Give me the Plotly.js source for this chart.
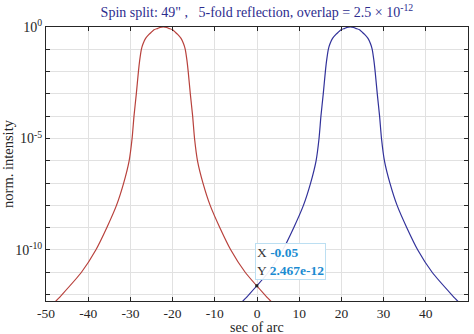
<!DOCTYPE html>
<html>
<head>
<meta charset="utf-8">
<script src="https://cdn.plot.ly/plotly-3.0.1.min.js"></script>
<style>
  html, body { margin: 0; padding: 0; background: #ffffff; }
  #chart { width: 474px; height: 334px; }
</style>
</head>
<body>
<div id="chart"></div>
<script>
// ---- data (x in sec of arc, y as log10 of normalised intensity) ----
const redX = [-48.7, -46.2, -41.6, -38.2, -35.6, -33.3, -31.6, -30.3, -29.6, -29.15, -28.6, -28.1, -27.8, -27.4, -27.0, -26.4, -25.6, -24.9, -24.4, -23.5, -23.0, -22.2,
              -21.4, -20.9, -20.0, -19.5, -18.8, -18.0, -17.4, -17.0, -16.6, -16.3, -15.8, -15.25, -14.8, -14.1, -12.8, -11.1, -8.8, -6.2, -2.8, 1.8, 4.3];
const redLogY = [-12.5, -12, -11, -10, -9, -8, -7, -6, -5, -4, -3, -2, -1.5, -1, -0.75, -0.51, -0.33, -0.21, -0.12, -0.06, -0.02, 0,
              -0.02, -0.06, -0.12, -0.21, -0.33, -0.51, -0.75, -1, -1.5, -2, -3, -4, -5, -6, -7, -8, -9, -10, -11, -12, -12.5];

const blueX = [-4.4, -1.9, 2.7, 6.1, 8.7, 11.0, 12.7, 14.0, 14.7, 15.15, 15.7, 16.2, 16.5, 16.9, 17.3, 17.9, 18.7, 19.4, 19.9, 20.8, 21.3, 22.1,
               22.9, 23.4, 24.3, 24.8, 25.5, 26.3, 26.9, 27.3, 27.7, 28.0, 28.5, 29.05, 29.5, 30.2, 31.5, 33.2, 35.5, 38.1, 41.5, 46.1, 48.6];
const blueLogY = [-12.5, -12, -11, -10, -9, -8, -7, -6, -5, -4, -3, -2, -1.5, -1, -0.75, -0.51, -0.33, -0.21, -0.12, -0.06, -0.02, 0,
               -0.02, -0.06, -0.12, -0.21, -0.33, -0.51, -0.75, -1, -1.5, -2, -3, -4, -5, -6, -7, -8, -9, -10, -11, -12, -12.5];

const tipX = -0.05;
const tipY = 2.467e-12;

const xTicks = [-50, -40, -30, -20, -10, 0, 10, 20, 30, 40, 50];
const yTickExp = [0, -1, -2, -3, -4, -5, -6, -7, -8, -9, -10, -11, -12];
const yTickText = ['10<sup>0</sup>', '', '', '', '', '10<sup>-5</sup>', '', '', '', '', '10<sup>-10</sup>', '', ''];

const titleText = 'Spin split: 49"\u00A0,\u00A0\u00A0\u00A05-fold reflection, overlap = 2.5 \u00D7 10<sup>-12</sup>';
const xTitle = 'sec of arc';
const yTitle = 'norm. intensity';

// ---- build ----
const toLin = a => a.map(e => Math.pow(10, e));
const serif = '"Liberation Serif", "DejaVu Serif", serif';
const axisCol = '#262626';
const gridCol = '#e1e1e1';

const traces = [
  { x: redX, y: toLin(redLogY), type: 'scatter', mode: 'lines',
    line: { color: '#b8413c', width: 1.2, shape: 'spline', smoothing: 0.6 }, hoverinfo: 'skip' },
  { x: blueX, y: toLin(blueLogY), type: 'scatter', mode: 'lines',
    line: { color: '#31319a', width: 1.2, shape: 'spline', smoothing: 0.6 }, hoverinfo: 'skip' },
  { x: [tipX], y: [tipY], type: 'scatter', mode: 'markers',
    marker: { color: '#222222', size: 3, symbol: 'square' }, hoverinfo: 'skip' }
];

const layout = {
  width: 474, height: 334,
  margin: { l: 46, r: 6, t: 27, b: 33 },
  paper_bgcolor: '#ffffff', plot_bgcolor: '#ffffff',
  showlegend: false,
  font: { family: serif, size: 14, color: axisCol },
  title: { text: titleText, font: { family: serif, size: 14, color: '#2d2d8e' },
           x: 0.542, xanchor: 'center', y: 0.965, yanchor: 'middle' },
  xaxis: {
    range: [-50, 50], tickvals: xTicks, ticktext: xTicks.map(String),
    ticks: 'inside', ticklen: 4, tickcolor: axisCol, tickwidth: 1,
    showline: true, linecolor: axisCol, linewidth: 1, mirror: 'ticks',
    showgrid: true, gridcolor: gridCol, gridwidth: 1, zeroline: false,
    tickfont: { family: serif, size: 13.5, color: axisCol }
  },
  yaxis: {
    type: 'log', range: [-12.29, 0],
    tickvals: toLin(yTickExp), ticktext: yTickText,
    ticks: 'inside', ticklen: 4, tickcolor: axisCol, tickwidth: 1,
    showline: true, linecolor: axisCol, linewidth: 1, mirror: 'ticks',
    showgrid: true, gridcolor: gridCol, gridwidth: 1, zeroline: false,
    tickfont: { family: serif, size: 14, color: axisCol },
    title: { text: yTitle, font: { family: serif, size: 14.5, color: axisCol }, standoff: 4 }
  },
  annotations: [{
    xref: 'x', yref: 'y', x: tipX, y: Math.log10(tipY),
    xanchor: 'left', yanchor: 'bottom', xshift: -2, yshift: 6,
    showarrow: false, align: 'left',
    text: 'X <span style="color:#1b8bd1"><b>-0.05</b></span><br>Y <span style="color:#1b8bd1"><b>2.467e-12</b></span>',
    font: { family: serif, size: 13.5, color: '#333333' },
    bgcolor: 'rgba(255,255,255,0.92)', bordercolor: '#bcdff2', borderwidth: 1, borderpad: 1
  }, {
    xref: 'paper', yref: 'paper', x: 0.5, y: -0.095, xanchor: 'center', yanchor: 'middle',
    showarrow: false, text: xTitle, borderpad: 0,
    font: { family: serif, size: 14, color: axisCol }
  }]
};

Plotly.newPlot('chart', traces, layout, { displayModeBar: false, staticPlot: true });
</script>
</body>
</html>
